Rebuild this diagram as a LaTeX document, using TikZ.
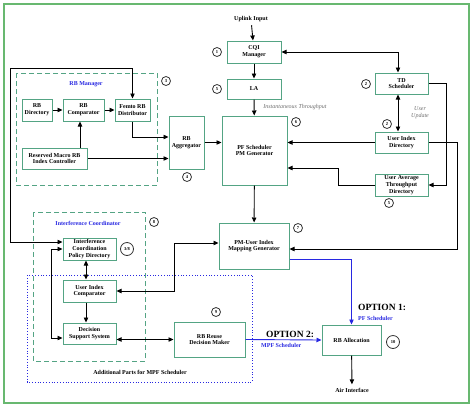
\documentclass[tikz,border=0pt]{standalone}
\usepackage{fontspec}
\setmainfont{Liberation Serif}
\usepackage{tikz}
\usetikzlibrary{arrows.meta,positioning}

\definecolor{boxgreen}{RGB}{84,164,132}
\definecolor{framegreen}{RGB}{104,184,112}
\definecolor{optblue}{RGB}{40,40,225}
\definecolor{notegray}{RGB}{110,110,110}

\tikzset{
    box/.style={draw=boxgreen, line width=1pt, fill=white, align=center, inner sep=0pt,
        font=\fontsize{6}{6.8}\selectfont\bfseries},
    num/.style={circle, draw=black!80, line width=0.8pt, inner sep=0pt, minimum size=9pt,
        font=\fontsize{4.5}{5}\selectfont\bfseries},
    bignum/.style={num, minimum size=13pt},
    arr/.style={-{Triangle[length=5pt,width=4.4pt]}, line width=0.9pt},
    arrs/.style={{Triangle[length=5pt,width=4.4pt]}-{Triangle[length=5pt,width=4.4pt]}, line width=0.9pt},
    barr/.style={arr, draw=optblue, color=optblue},
    lbl/.style={font=\fontsize{6}{6.8}\selectfont\bfseries},
}

\begin{document}
\begin{tikzpicture}[x=1pt,y=-1pt]
        \useasboundingbox (0,0) rectangle (474,408);
        \draw[framegreen, line width=1.2pt] (4,4) rectangle (469,403);

        % groups
        \draw[boxgreen, line width=0.9pt, dash pattern=on 5pt off 3pt] (16,73) rectangle (157,185);
        \draw[boxgreen, line width=0.9pt, dash pattern=on 5pt off 3pt] (33,212) rectangle (145,361);
        \draw[optblue, line width=0.8pt, dotted] (27,275) rectangle (252,382);

        % main chain
        \node[lbl] (uplink) at (251,19) {Uplink Input};
        \node[box, minimum width=54pt, minimum height=22pt] (cqi) at (254,52) {CQI\\Manager};
        \node[box, minimum width=54pt, minimum height=20pt] (la) at (254,89) {LA};
        \node[box, minimum width=65pt, minimum height=69pt] (pf) at (254.5,150.5) {PF Scheduler\\PM Generator};
        \node[box, minimum width=70pt, minimum height=46pt] (pmg) at (254,246) {PM-User Index\\Mapping Generator};
        \node[box, minimum width=59pt, minimum height=30pt] (rba) at (351.5,340) {RB Allocation};
        \node[lbl] (air) at (352,390) {Air Interface};

        % right column
        \node[box, minimum width=53pt, minimum height=21pt] (td) at (401.5,83.5) {TD\\Scheduler};
        \node[box, minimum width=53pt, minimum height=21pt] (uid) at (401.5,142.5) {User Index\\Directory};
        \node[box, minimum width=53pt, minimum height=22pt] (uat) at (401.5,185) {User Average\\Throughput\\Directory};

        % RB manager
        \node[box, minimum width=30pt, minimum height=22pt] (rbd) at (37,110) {RB\\Directory};
        \node[box, minimum width=41pt, minimum height=22pt] (rbc) at (83.5,110) {RB\\Comparator};
        \node[box, minimum width=35pt, minimum height=22pt] (frd) at (132.5,110) {Femto RB\\Distributor};
        \node[box, minimum width=65pt, minimum height=21pt] (rmc) at (54.5,158.5) {Reserved Macro RB\\Index Controller};
        \node[box, minimum width=35pt, minimum height=53pt] (agg) at (186.5,142.5) {RB\\Aggregator};

        % interference coordinator
        \node[box, minimum width=53pt, minimum height=22pt] (icpd) at (89.5,249) {Interference\\Coordination\\Policy Directory};
        \node[box, minimum width=53pt, minimum height=22pt] (uic) at (89.5,291) {User Index\\Comparator};
        \node[box, minimum width=53pt, minimum height=21pt] (dss) at (89.5,333.5) {Decision\\Support System};
        \node[box, minimum width=71pt, minimum height=35pt] (rbr) at (209.5,339.5) {RB Reuse\\Decision Maker};

        % labels
        \node[lbl, text=optblue] (rbmlbl) at (86,84) {RB Manager};
        \node[lbl, text=optblue] (iclbl) at (88,223) {Interference Coordinator};
        \node[lbl] (mpflbl) at (140,372) {Additional Parts for MPF Scheduler};
        \node[font=\fontsize{6}{6.8}\selectfont\itshape, text=notegray] (instlbl) at (295,107) {Instantaneous Throughput};
        \node[font=\fontsize{6}{6.8}\selectfont\itshape, text=notegray, align=center] (updlbl) at (420,113) {User\\Update};
        \node[font=\fontsize{9.5}{10}\selectfont\bfseries, anchor=west, inner sep=0pt] (opt1) at (358,307) {OPTION 1:};
        \node[lbl, text=optblue, anchor=west, inner sep=0pt] (opt1b) at (358,318) {PF Scheduler};
        \node[font=\fontsize{9.5}{10}\selectfont\bfseries, anchor=west, inner sep=0pt] (opt2) at (266,334) {OPTION 2:};
        \node[lbl, text=optblue, anchor=west, inner sep=0pt] (opt2b) at (261,345) {MPF Scheduler};

        % numbers
        \node[num] (n1) at (217,52) {1};
        \node[num] (n5a) at (217,89) {5};
        \node[num] (n6) at (296,122) {6};
        \node[num] (n2a) at (366,84) {2};
        \node[num] (n2b) at (387,124) {2};
        \node[num] (n5b) at (389,203) {5};
        \node[num] (n7) at (298,228) {7};
        \node[bignum] (n10) at (393,342) {10};
        \node[num] (n9) at (216,312) {9};
        \node[num] (n8) at (154,222) {8};
        \node[bignum] (n38) at (127,249) {3/8};
        \node[num] (n3) at (166,81) {3};
        \node[num] (n4) at (187,177) {4};

        % connectors
        \draw[arr] (uplink) -- (cqi);
        \draw[arr] (cqi) -- (la);
        \draw[arr] (la) -- (pf);
        \draw[arrs] (cqi.east) -| ([xshift=-3.5pt]td.north);
        \draw[arrs] ([xshift=-3.5pt]td.south) -- ([xshift=-3.5pt]uid.north);
        \draw[arr] (td.east) -- ++(18,0) |- (uat.east);
        \draw[arr] (uid.west) -- (pf.east |- uid.west);
        \draw[arr] (uid.east) -- ++(29,0) |- ([yshift=-3pt]pmg.east);
        \draw[arr] (uat.west) -- ++(-36,0) |- ([yshift=-17.5pt]pf.east);
        \draw[arr] (pf) -- (pmg);
        \draw[barr] ([yshift=-13pt]pmg.east) -| (rba.north);
        \draw[barr] (rbr.east) -- (rba.west);
        \draw[arr] (rba) -- (air);

        \draw[arr] (rbd) -- (rbc);
        \draw[arr] (rbc) -- (frd);
        \draw[arr] ([xshift=-3.5pt]rbc.south |- rmc.north) -- ([xshift=-3.5pt]rbc.south);
        \draw[arr] (frd.south) |- ([yshift=5.5pt]agg.west);
        \draw[arr] (rmc.east) -- (agg.west |- rmc.east);
        \draw[arr] (agg.east) -- (pf.west |- agg.east);

        \draw[arrs] ([yshift=7pt]icpd.west) -| (10,68) -| (frd.north);
        \draw[arrs] (icpd.west) -- ++(-11,0) |- ([yshift=-4.5pt]dss.west);
        \draw[arrs] ([xshift=-3.5pt]icpd.south) -- ([xshift=-3.5pt]uic.north);
        \draw[arr] ([xshift=-3.5pt]uic.south) -- ([xshift=-3.5pt]dss.north);
        \draw[arrs] ([yshift=3pt]pmg.west) -- ++(-44,0) |- (uic.east);
        \draw[arrs] (dss.east |- rbr.west) -- (rbr.west);
    \end{tikzpicture}
\end{document}
